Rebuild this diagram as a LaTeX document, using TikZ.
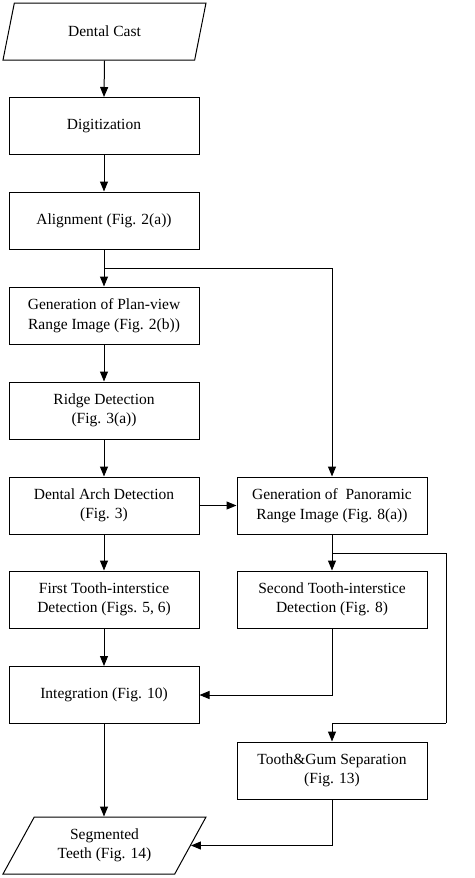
\documentclass[tikz,border=0pt]{standalone}
\usepackage{fontspec}
\setmainfont{Liberation Serif}
\usetikzlibrary{shapes.geometric,arrows.meta}
\begin{document}
\begin{tikzpicture}[x=1pt,y=-1pt,
  every node/.style={font=\fontsize{15.5}{19.5}\selectfont, align=center},
  box/.style={draw, line width=1pt, minimum width=190pt, minimum height=57pt, inner sep=2pt},
  io/.style={draw, line width=1pt, trapezium, trapezium left angle=48.7, trapezium right angle=131.3,
    trapezium stretches body=true, minimum width=203pt, minimum height=57pt, inner sep=1pt},
  arr/.style={line width=1pt, -{Triangle[length=10pt,width=8pt]}},
  ln/.style={line width=1pt}]
\useasboundingbox (0,0) rectangle (474,878);
\node[io] (cast) at (104.5,31.5) {Dental Cast};
\node[box] (dig) at (104,126) {Digitization};
\node[box] (align) at (104,220.5) {Alignment (Fig. 2(a))};
\node[box] (plan) at (104,315.5) {Generation of Plan-view\\Range Image (Fig. 2(b))};
\node[box] (ridge) at (104,410.5) {Ridge Detection\\(Fig. 3(a))};
\node[box] (arch) at (104,505.5) {Dental Arch Detection\\(Fig. 3)};
\node[box] (pano) at (332,505.5) {Generation of\ \ Panoramic\\Range Image (Fig. 8(a))};
\node[box] (first) at (104,599.5) {First Tooth-interstice\\Detection (Figs. 5, 6)};
\node[box] (second) at (332,599.5) {Second Tooth-interstice\\Detection (Fig. 8)};
\node[box] (integ) at (104,695) {Integration (Fig. 10)};
\node[box] (gum) at (332,770.5) {Tooth\&Gum Separation\\(Fig. 13)};
\node[io] (seg) at (104.5,845.5) {Segmented\\Teeth (Fig. 14)};
\coordinate (j1) at (104,268);
\coordinate (j2) at (332,553);
\coordinate (r1) at (446,553);
\coordinate (r2) at (446,723);
\draw[arr] (cast.south) -- (dig.north);
\draw[arr] (dig) -- (align);
\draw[arr] (align) -- (plan);
\draw[arr] (j1) -| (pano.north);
\draw[arr] (plan) -- (ridge);
\draw[arr] (ridge) -- (arch);
\draw[arr] (arch) -- (pano);
\draw[arr] (arch) -- (first);
\draw[arr] (pano) -- (second);
\draw[ln] (j2) -- (r1) -- (r2);
\draw[arr] (r2) -| (gum.north);
\draw[arr] (first) -- (integ);
\draw[arr] (second.south) |- (integ.east);
\draw[arr] (integ.south) -- (integ.south |- seg.north);
\draw[arr] (gum.south) |- (seg);
\end{tikzpicture}
\end{document}
